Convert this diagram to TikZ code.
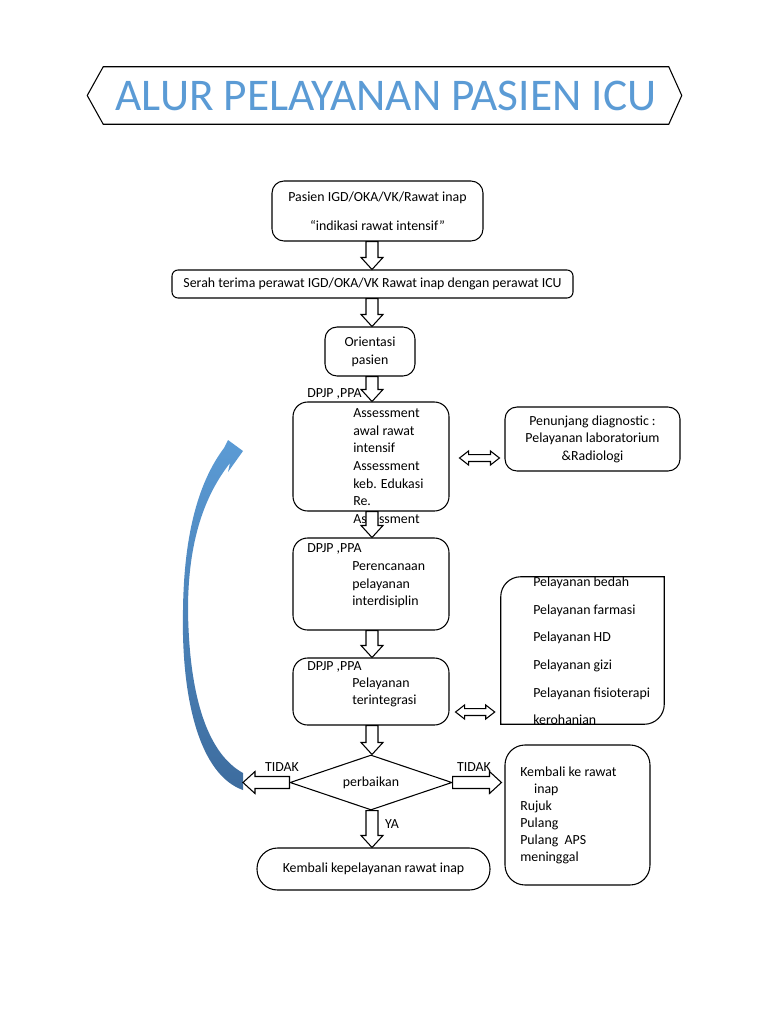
\documentclass[tikz,border=0pt]{standalone}
\usepackage{fontspec}
\setmainfont{Carlito}
\usepackage{tikz}
\usetikzlibrary{positioning,calc,shapes.geometric}
\usepackage{xcolor}
\definecolor{titleblue}{HTML}{5B9BD5}
\definecolor{loopdark}{HTML}{3D6C9E}

% hollow block arrows between two points
\newcommand{\downblk}[2]{%
  \draw[blk] let \p1=(#1), \p2=(#2) in
    (\x1-4.5pt,\y1) -- (\x1+4.5pt,\y1) -- (\x1+4.5pt,\y2+9pt)
    -- (\x1+8.25pt,\y2+9pt) -- (\x1,\y2) -- (\x1-8.25pt,\y2+9pt)
    -- (\x1-4.5pt,\y2+9pt) -- cycle;}
\newcommand{\sideblk}[2]{%
  \draw[blk] let \p1=(#1), \p2=(#2), \n1={sign(\x2-\x1)} in
    (\x1,\y1-4.5pt) -- (\x2-\n1*9pt,\y1-4.5pt) -- (\x2-\n1*9pt,\y1-8.25pt)
    -- (\x2,\y1) -- (\x2-\n1*9pt,\y1+8.25pt) -- (\x2-\n1*9pt,\y1+4.5pt)
    -- (\x1,\y1+4.5pt) -- cycle;}
\newcommand{\dblblk}[2]{%
  \draw[blk] let \p1=(#1), \p2=(#2) in
    (\x1,\y1) -- (\x1+6.75pt,\y1+5.25pt) -- (\x1+6.75pt,\y1+2.6pt)
    -- (\x2-6.75pt,\y1+2.6pt) -- (\x2-6.75pt,\y1+5.25pt) -- (\x2,\y1)
    -- (\x2-6.75pt,\y1-5.25pt) -- (\x2-6.75pt,\y1-2.6pt)
    -- (\x1+6.75pt,\y1-2.6pt) -- (\x1+6.75pt,\y1-5.25pt) -- cycle;}

\begin{document}
\begin{tikzpicture}[
    x=0.75pt, y=-0.75pt,
    txt/.style={font=\fontsize{10.4pt}{13.2pt}\selectfont},
    box/.style={draw, rounded corners=#1, line width=0.8pt, align=center,
                inner sep=0pt, txt},
    box/.default=9pt,
    lbl/.style={txt, inner sep=0pt, anchor=west, align=left},
    blk/.style={draw, fill=white, line width=0.8pt, line join=miter}
  ]
    \useasboundingbox (0,0) rectangle (768,1024);

    % --- Title ---
    \node[txt, font=\fontsize{34pt}{37pt}\selectfont, text=titleblue,
          minimum width=423.75pt, minimum height=42.75pt, inner sep=0pt]
          (judul) at (386,95.5) {ALUR PELAYANAN PASIEN ICU};
    \draw[line width=0.8pt] (judul.north west) -- (judul.north east)
      -- ([xshift=9.75pt]judul.east) -- (judul.south east)
      -- (judul.south west) -- ([xshift=-12pt]judul.west) -- cycle;

    % --- Main column ---
    \node[box, minimum width=158.25pt, minimum height=45pt,
          font=\fontsize{10.4pt}{21.75pt}\selectfont] (pasien) at (377.5,211)
          {Pasien IGD/OKA/VK/Rawat inap\\“indikasi rawat intensif”};
    \node[box=4.5pt, minimum width=300.75pt, minimum height=21pt] (serah) at (372.5,284)
          {Serah terima perawat IGD/OKA/VK Rawat inap dengan perawat ICU};
    \node[box, minimum width=67.5pt, minimum height=36.75pt,
          font=\fontsize{10.4pt}{13.5pt}\selectfont] (orient) at (370,351.5)
          {Orientasi\\pasien};

    \node[box=11pt, minimum width=117pt, minimum height=81.75pt] (assess) at (371,456.5) {};
    \node[lbl] (dpjpa) at (307,394) {DPJP ,PPA};
    \node[lbl] (assesstxt) at (353,466)
          {Assessment\\awal rawat\\intensif\\Assessment\\keb. Edukasi\\Re.\\Assessment};

    \node[box=11pt, minimum width=117pt, minimum height=69pt] (rencana) at (371,584) {};
    \node[lbl] (dpjpb) at (307,549) {DPJP ,PPA};
    \node[lbl] (rencanatxt) at (352,585) {Perencanaan\\pelayanan\\interdisiplin};

    \node[box=11pt, minimum width=117pt, minimum height=50.25pt] (integrasi) at (371,691.5) {};
    \node[lbl] (dpjpc) at (307,667) {DPJP ,PPA};
    \node[lbl] (integrasitxt) at (352,692.5) {Pelayanan\\terintegrasi};

    \node[draw, diamond, aspect=3, line width=0.8pt, minimum width=121.5pt,
          minimum height=41.25pt, inner sep=0pt, txt] (cek) at (371,782.5) {perbaikan};
    \node[box=15.5pt, minimum width=174.75pt, minimum height=31.5pt] (kembali) at (373.5,869)
          {Kembali kepelayanan rawat inap};

    % --- Right column ---
    \node[box, minimum width=131.25pt, minimum height=48pt] (penunjang) at (592.5,439)
          {Penunjang diagnostic :\\Pelayanan laboratorium\\\&Radiologi};

    \node[minimum width=122.25pt, minimum height=110.25pt, inner sep=0pt] (layanan) at (582.5,650.5) {};
    \draw[line width=0.8pt] (layanan.south west) -- ([yshift=-15pt]layanan.north west)
      arc[start angle=180, end angle=90, radius=15pt] -- (layanan.north east)
      -- ([yshift=15pt]layanan.south east)
      arc[start angle=0, end angle=-90, radius=15pt] -- cycle;
    \node[lbl, font=\fontsize{10.4pt}{20.7pt}\selectfont] (layanantxt) at (533,651)
          {Pelayanan bedah\\Pelayanan farmasi\\Pelayanan HD\\Pelayanan gizi\\Pelayanan fisioterapi\\kerohanian};

    \node[box=15pt, minimum width=108.75pt, minimum height=105pt] (keluar) at (577.5,815) {};
    \node[lbl, font=\fontsize{10.4pt}{12.75pt}\selectfont] (keluartxt) at (520,815.5)
          {Kembali ke rawat\\\hspace*{1em}inap\\Rujuk\\Pulang\\Pulang\ \ APS\\meninggal};

    % --- Labels ---
    \node[txt, inner sep=0pt] (tidakkiri) at (282,767) {TIDAK};
    \node[txt, inner sep=0pt] (tidakkanan) at (474,767) {TIDAK};
    \node[txt, inner sep=0pt] (ya) at (392,824) {YA};

    % --- Loop back ---
    \coordinate (balik) at (243,782.5);
    \shade[top color=titleblue, bottom color=loopdark]
      (243,790) .. controls (200,775) and (181,700) .. (183,610)
      .. controls (184,530) and (200,480) .. (224,448)
      -- (228,440) -- (243,451) -- (228,472) -- (230,463)
      .. controls (205,495) and (188,540) .. (188,610)
      .. controls (189,690) and (205,752) .. (243,773) -- cycle;

    % --- Block arrows ---
    \coordinate (poros) at (372,0);
    \downblk{pasien.south -| poros}{serah.north -| poros}
    \downblk{serah.south -| poros}{orient.north -| poros}
    \downblk{orient.south -| poros}{assess.north -| poros}
    \downblk{assess.south -| poros}{rencana.north -| poros}
    \downblk{rencana.south -| poros}{integrasi.north -| poros}
    \downblk{integrasi.south -| poros}{cek.north -| poros}
    \downblk{cek.south -| poros}{kembali.north -| poros}

    \sideblk{cek.west}{balik}
    \coordinate (keluarkiri) at ($(cek.east -| keluar.west)+(-3,0)$);
    \sideblk{cek.east}{keluarkiri}

    \coordinate (d1a) at ($(assess.east)+(10,1.5)$);
    \coordinate (d1b) at ($(penunjang.west |- d1a)+(-5,0)$);
    \dblblk{d1a}{d1b}
    \coordinate (d2a) at ($(integrasi.east)+(6,20.5)$);
    \coordinate (d2b) at ($(layanan.west |- d2a)+(-6,0)$);
    \dblblk{d2a}{d2b}
  \end{tikzpicture}
\end{document}
